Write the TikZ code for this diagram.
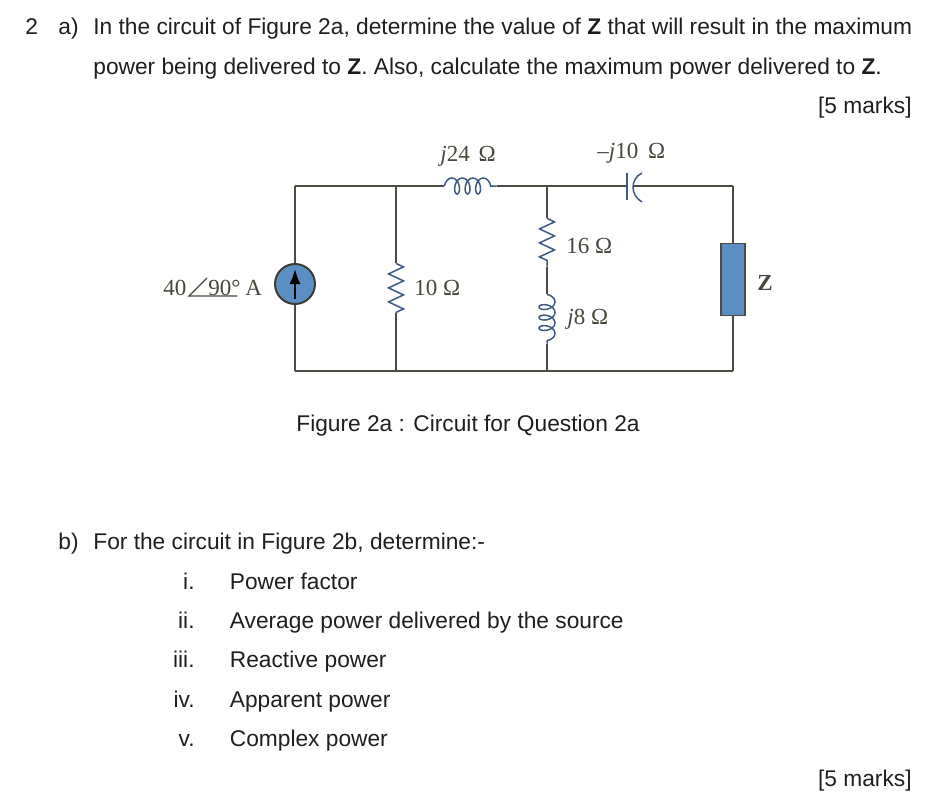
\documentclass[tikz,border=0pt]{standalone}
\usepackage{fontspec}
\setmainfont{Liberation Sans}
\newfontfamily\circfont{Liberation Serif}
\usetikzlibrary{decorations.pathmorphing,arrows.meta}
\definecolor{wirecol}{HTML}{4E4C42}
\definecolor{inkcol}{HTML}{1F1F1F}
\definecolor{labelcol}{HTML}{4A473C}
\definecolor{partcol}{HTML}{3F5A80}
\definecolor{fillcol}{HTML}{5B8FC4}

\begin{document}
\begin{tikzpicture}[x=1pt,y=-1pt,thick,
  qtext/.style={anchor=base west,inner sep=0pt,text=inkcol,font=\fontsize{22.73}{26}\selectfont},
  rtext/.style={anchor=base east,inner sep=0pt,text=inkcol,font=\fontsize{22.73}{26}\selectfont},
  ctext/.style={anchor=base,inner sep=0pt,text=inkcol,font=\fontsize{22.73}{26}\selectfont},
  circ label/.style={anchor=base west,inner sep=0pt,text=labelcol,font=\circfont\fontsize{23}{26}\selectfont},
  wire/.style={draw=wirecol,line width=1.8pt},
  res/.style={draw=partcol,line width=1.5pt,decorate,decoration={zigzag,segment length=14pt,amplitude=7.5pt}},
  ind/.style={draw=partcol,line width=1.5pt,decorate,decoration={coil,aspect=0.6,segment length=10.5pt,amplitude=8pt}},
  junction/.style={inner sep=0pt,minimum size=0pt}]

  \useasboundingbox (0,0) rectangle (951,803);
  \fill[white] (0,0) rectangle (951,803);

%question text
  \node[qtext] (num) at (25,34.3) {2};
  \node[qtext] (parta) at (58,34.3) {a)};
  \node[qtext] (line1) at (93,34.3) {In the circuit of Figure 2a, determine the value of \textbf{Z} that will result in the maximum};
  \node[qtext] (line2) at (93,74.3) {power being delivered to \textbf{Z}. Also, calculate the maximum power delivered to \textbf{Z}.};
  \node[rtext] (marks1) at (912,113.3) {[5 marks]};
  \node[ctext] (caption) at (468,431.3) {Figure 2a : Circuit for Question 2a};

%part b
  \node[qtext] (partb) at (58,549.3) {b)};
  \node[qtext] (line3) at (93,549.3) {For the circuit in Figure 2b, determine:-};
  \node[rtext] (n1) at (195,589.3) {i.};
  \node[qtext] (t1) at (229.5,589.3) {Power factor};
  \node[rtext] (n2) at (195,628.3) {ii.};
  \node[qtext] (t2) at (229.5,628.3) {Average power delivered by the source};
  \node[rtext] (n3) at (195,667.3) {iii.};
  \node[qtext] (t3) at (229.5,667.3) {Reactive power};
  \node[rtext] (n4) at (195,707.3) {iv.};
  \node[qtext] (t4) at (229.5,707.3) {Apparent power};
  \node[rtext] (n5) at (195,746.3) {v.};
  \node[qtext] (t5) at (229.5,746.3) {Complex power};
  \node[rtext] (marks2) at (912,786.3) {[5 marks]};

%junctions of the circuit
  \node[junction] (TL) at (295,186) {};
  \node[junction] (T1) at (396,186) {};
  \node[junction] (T2) at (547,186) {};
  \node[junction] (TR) at (733,186) {};
  \node[junction] (BL) at (295,371) {};
  \node[junction] (B1) at (396,371) {};
  \node[junction] (B2) at (547,371) {};
  \node[junction] (BR) at (733,371) {};

%parts
  \node[circle,draw=wirecol!80!black,line width=2pt,fill=fillcol,minimum size=40pt,inner sep=0pt] (IS) at (295,284) {};
  \node[draw=wirecol,line width=1.5pt,fill=fillcol,minimum width=24pt,minimum height=72pt,inner sep=0pt] (Z) at (733,279.5) {};
  \node[junction] (R1a) at (396,263) {};
  \node[junction] (R1b) at (396,313) {};
  \node[junction] (L1a) at (444,186) {};
  \node[junction] (L1b) at (497,186) {};
  \node[junction] (R2a) at (547,218) {};
  \node[junction] (R2b) at (547,267) {};
  \node[junction] (L2a) at (547,294) {};
  \node[junction] (L2b) at (547,344) {};
  \node[junction] (Ca) at (627,186) {};
  \node[junction] (Cb) at (633,186) {};

%wires
  \draw[wire] (IS) -- (TL) -- (T1) -- (L1a);
  \draw[wire] (L1b) -- (T2) -- (Ca);
  \draw[wire] (Cb) -- (TR) -- (Z);
  \draw[wire] (Z) -- (BR) -- (B2) -- (B1) -- (BL) -- (IS);
  \draw[wire] (T1) -- (R1a);
  \draw[wire] (R1b) -- (B1);
  \draw[wire] (T2) -- (R2a);
  \draw[wire] (R2b) -- (L2a);
  \draw[wire] (L2b) -- (B2);

%resistors and coils
  \draw[res] (R1a) -- (R1b);
  \draw[res] (R2a) -- (R2b);
  \draw[ind] (L1a) -- (L1b);
  \draw[ind] (L2a) -- (L2b);

%capacitor
  \draw[draw=partcol,line width=1.5pt] (Ca) ++(0,-13) -- ++(0,27);
  \draw[draw=partcol,line width=1.5pt] (642,173) .. controls (630,179) and (630,195) .. (642,202);

%arrow of the source
  \draw[-{Latex[length=15pt,width=11pt]},line width=1.8pt,black] (295,299) -- (295,269);

%labels
  \node[circ label] (l24) at (440,161.5) {\textit{j}24\hspace{3pt} Ω};
  \node[circ label] (l10c) at (597,158) {–\textit{j}10\hspace{4pt} Ω};
  \node[circ label] (l10) at (414,295) {10 Ω};
  \node[circ label] (l16) at (566,253) {16 Ω};
  \node[circ label] (l8) at (567,324) {\textit{j}8 Ω};
  \node[circ label] (lz) at (757,290) {\textbf{Z}};
  \node[circ label] (l40) at (163,295) {40};
  \node[circ label] (l90) at (208,295) {90°};
  \node[circ label] (lA) at (245,295) {A};
  \draw[draw=labelcol,line width=1.3pt] (207,278) -- (189,296) -- (237,296);
\end{tikzpicture}
\end{document}
